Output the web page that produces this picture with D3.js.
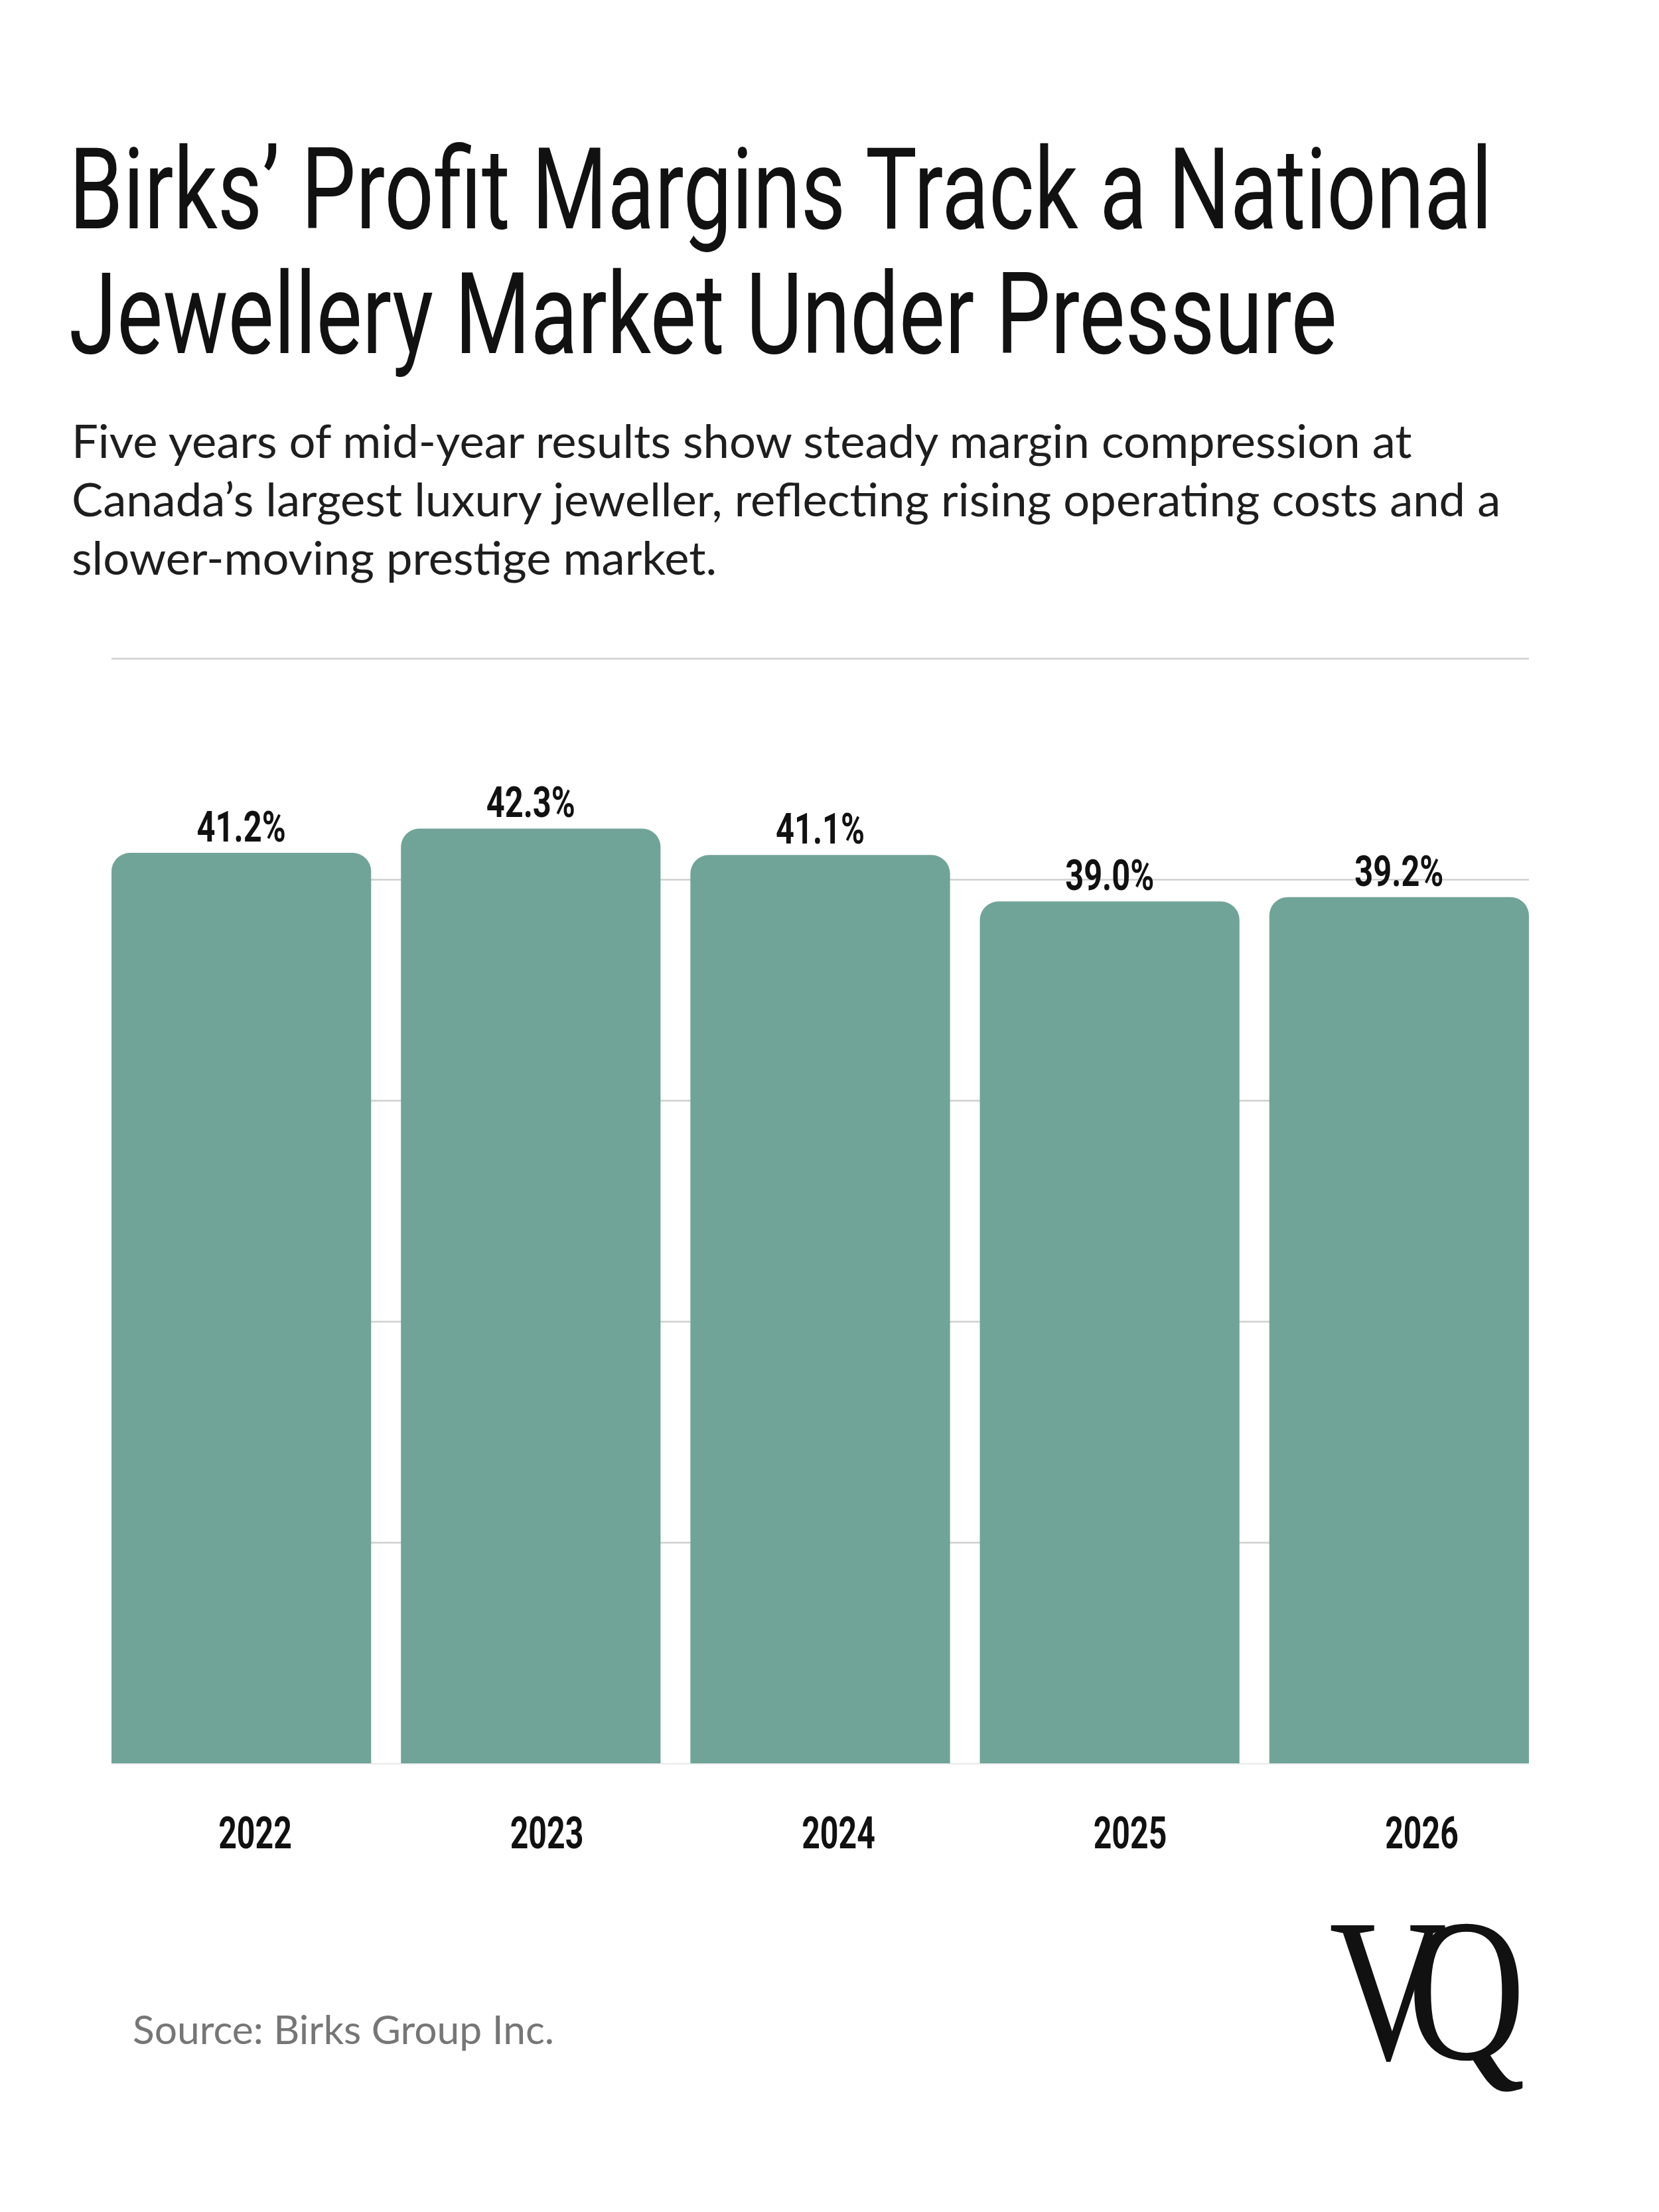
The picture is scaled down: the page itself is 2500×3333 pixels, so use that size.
<!DOCTYPE html>
<html>
<head>
<meta charset="utf-8">
<script src="https://cdn.jsdelivr.net/npm/d3@7"></script>
<style>
  html, body { margin: 0; padding: 0; background: #ffffff; }
  svg { display: block; }
</style>
</head>
<body>
<svg id="chart"></svg>
<script>
// Birks – marges par année (résultats de mi-année)

const YEARS = ['2022', '2023', '2024', '2025', '2026'];
const MARGIN_PCT = [41.2, 42.3, 41.1, 39.0, 39.2];
const Y_TICKS = [0, 10, 20, 30, 40, 50];

const TITLE_LINES = [
  'Birks’ Profit Margins Track a National',
  'Jewellery Market Under Pressure',
];
const SUBTITLE_LINES = [
  'Five years of mid-year results show steady margin compression at',
  'Canada’s largest luxury jeweller, reflecting rising operating costs and a',
  'slower-moving prestige market.',
];
const SOURCE_TEXT = 'Source: Birks Group Inc.';

const W = 2500, H = 3333;
const PLOT = { left: 168, right: 2304, top: 992, bottom: 2657 };
const BAR_COLOR = '#71a498';
const CONDENSED = 'Roboto, "Noto Sans", sans-serif';

const svg = d3.select('#chart')
  .attr('width', W)
  .attr('height', H)
  .attr('viewBox', `0 0 ${W} ${H}`);

svg.append('rect').attr('width', W).attr('height', H).attr('fill', '#ffffff');

// ── Titre (police étroite simulée par mise à l'échelle horizontale) ─────────

const titleG = svg.append('g');
const titleTexts = TITLE_LINES.map(line =>
  titleG.append('text')
    .attr('font-family', CONDENSED)
    .attr('font-weight', 400)
    .attr('font-size', 170)
    .attr('fill', '#111111')
    .text(line)
);
const titleScale = 2145 / titleTexts[0].node().getComputedTextLength();
const titleBaselines = [344, 532];
titleTexts.forEach((t, i) =>
  t.attr('transform', `translate(104,${titleBaselines[i]}) scale(${titleScale},1)`)
);

// ── Sous-titre ──────────────────────────────────────────────────────────────

const subG = svg.append('g');
const probe = subG.append('text')
  .attr('font-family', 'Lato, sans-serif')
  .attr('font-size', 60)
  .text(SUBTITLE_LINES[0]);
const subSize = 60 * 2020 / probe.node().getComputedTextLength();
probe.remove();

subG.selectAll('text')
  .data(SUBTITLE_LINES)
  .join('text')
  .attr('x', 108)
  .attr('y', (d, i) => 690 + i * 88)
  .attr('font-family', 'Lato, sans-serif')
  .attr('font-size', subSize)
  .attr('fill', '#1e1e1e')
  .text(d => d);

// ── Échelles ────────────────────────────────────────────────────────────────

const x = d3.scaleBand()
  .domain(YEARS)
  .range([PLOT.left, PLOT.right])
  .paddingInner(0.103)
  .paddingOuter(0);

const y = d3.scaleLinear()
  .domain([0, 50])
  .range([PLOT.bottom, PLOT.top]);

// les étiquettes d'années sont légèrement décalées vers la droite dans l'original
const xLabel = d3.scalePoint()
  .domain(YEARS)
  .range([384, 2142]);

// ── Grille ──────────────────────────────────────────────────────────────────

const gridG = svg.append('g')
  .attr('transform', `translate(${PLOT.left},0)`)
  .call(d3.axisLeft(y)
    .tickValues(Y_TICKS)
    .tickSize(-(PLOT.right - PLOT.left))
    .tickFormat(''));
gridG.select('.domain').remove();
gridG.selectAll('.tick line')
  .attr('stroke', d => d === 0 ? '#ececec' : '#cfcfcf')
  .attr('stroke-width', 2.5);

// ── Barres (coins supérieurs arrondis) ──────────────────────────────────────

function topRounded(x0, y0, w, h, r) {
  r = Math.min(r, w / 2, h);
  return `M${x0},${y0 + h}V${y0 + r}A${r},${r} 0 0 1 ${x0 + r},${y0}` +
         `H${x0 + w - r}A${r},${r} 0 0 1 ${x0 + w},${y0 + r}V${y0 + h}Z`;
}

const data = YEARS.map((yr, i) => ({ year: yr, value: MARGIN_PCT[i] }));

svg.append('g')
  .selectAll('path.bar')
  .data(data)
  .join('path')
  .attr('class', 'bar')
  .attr('fill', BAR_COLOR)
  .attr('d', d => topRounded(x(d.year), y(d.value), x.bandwidth(), y(0) - y(d.value), 28));

// ── Étiquettes de valeur ────────────────────────────────────────────────────

svg.append('g')
  .selectAll('text')
  .data(data)
  .join('text')
  .attr('transform', d =>
    `translate(${x(d.year) + x.bandwidth() / 2},${y(d.value) - 17}) scale(0.75,1)`)
  .attr('text-anchor', 'middle')
  .attr('font-family', CONDENSED)
  .attr('font-weight', 700)
  .attr('font-size', 65)
  .attr('fill', '#111111')
  .text(d => `${d.value.toFixed(1)}%`);

// ── Axe des années ──────────────────────────────────────────────────────────

const xAxisG = svg.append('g')
  .attr('transform', `translate(0,2785)`)
  .call(d3.axisBottom(xLabel).tickSize(0).tickPadding(0));
xAxisG.select('.domain').remove();
xAxisG.selectAll('.tick text')
  .attr('y', 0)
  .attr('dy', 0)
  .attr('transform', 'scale(0.72,1)')
  .attr('font-family', CONDENSED)
  .attr('font-weight', 700)
  .attr('font-size', 67)
  .attr('fill', '#111111');

// ── Source ──────────────────────────────────────────────────────────────────

svg.append('text')
  .attr('x', 200)
  .attr('y', 3080)
  .attr('font-family', 'Lato, sans-serif')
  .attr('font-size', 60.5)
  .attr('fill', '#767676')
  .text(SOURCE_TEXT);

// ── Logo VQ (lettres qui se chevauchent, un seul texte) ─────────────────────

svg.append('text')
  .attr('transform', 'translate(2003,3102) scale(0.8,1)')
  .attr('font-family', '"Liberation Serif", "DejaVu Serif", serif')
  .attr('font-size', 307)
  .attr('letter-spacing', -74)
  .attr('fill', '#111111')
  .text('VQ');
</script>
</body>
</html>
